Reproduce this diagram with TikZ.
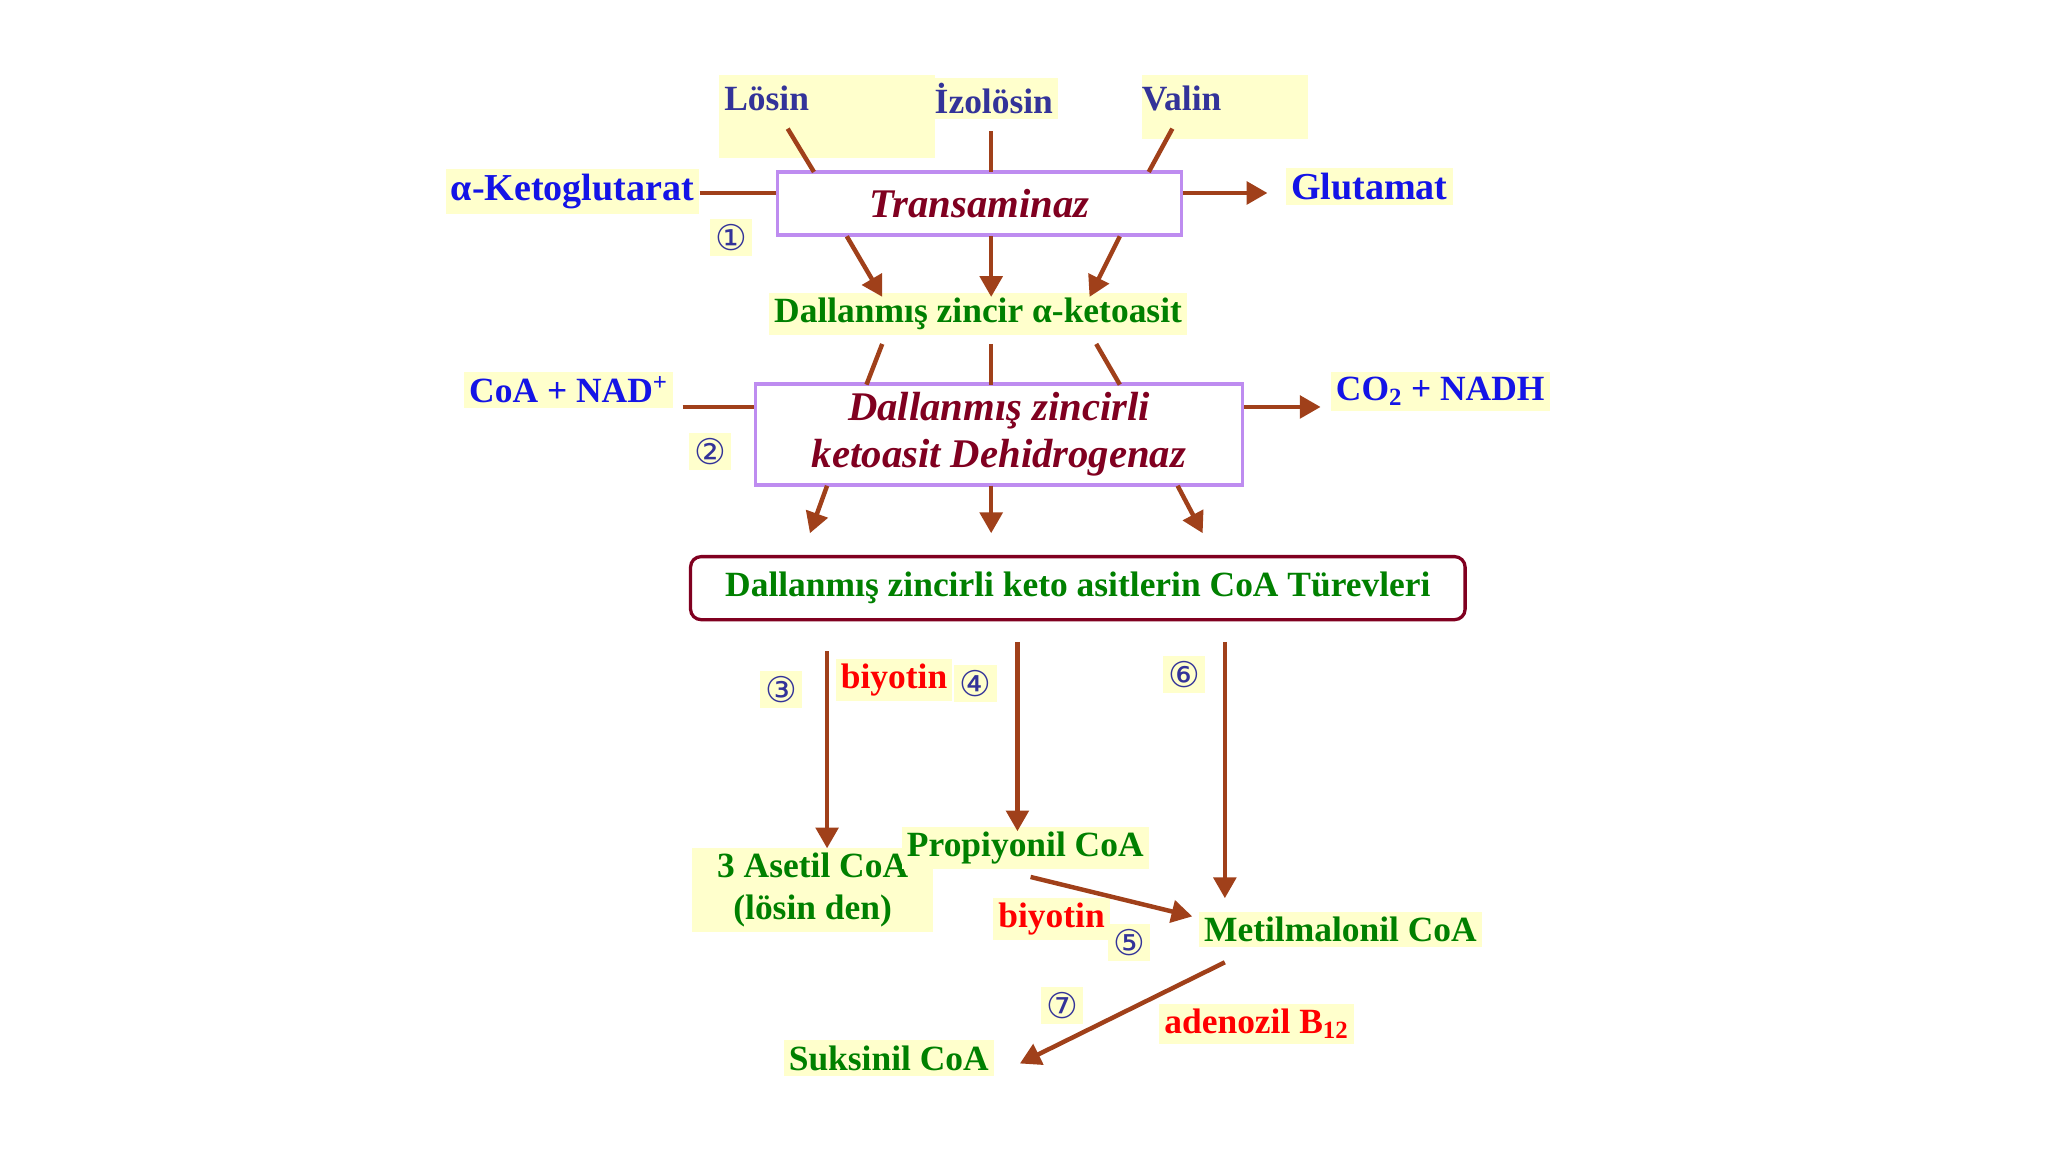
\documentclass[tikz,border=0pt]{standalone}
\usepackage{fontspec}
\setmainfont{Liberation Serif}
\newfontfamily\circfont{DejaVu Sans}
\usetikzlibrary{arrows}
\usetikzlibrary{positioning}
\definecolor{arr}{RGB}{160,64,26}
\definecolor{hl}{RGB}{255,255,204}
\definecolor{aa}{RGB}{51,51,153}
\definecolor{bl}{RGB}{20,20,230}
\definecolor{gr}{RGB}{0,128,0}
\definecolor{dr}{RGB}{128,0,32}
\definecolor{vi}{RGB}{190,140,240}
\begin{document}
\begin{tikzpicture}[x=1pt, y=-1pt, font=\bfseries\fontsize{27}{32}\selectfont]
    \tikzset{
        lbl/.style={fill=hl, inner sep=4pt},
        enz/.style={draw=vi, line width=2.5pt, fill=white, text=dr, font=\bfseries\itshape\fontsize{31}{36}\selectfont, align=center, inner sep=2pt},
        num/.style={fill=hl, inner sep=4pt, font=\circfont\fontsize{27}{30}\selectfont, text=aa},
        pth/.style={draw=arr, line width=3.4pt},
        arw/.style={pth, -triangle 60},
    }
    \useasboundingbox (0,0) rectangle (1560,877);

    \fill [hl] (548,57) rectangle (712,120);
    \fill [hl] (870,57) rectangle (996,106);
    \node [text=aa] (losin) at (584,75) {Lösin};
    \node [lbl, text=aa] (izo) at (757,75) {İzolösin};
    \node [text=aa] (valin) at (900,75) {Valin};

    \node [enz, minimum width=308pt, minimum height=48pt] (trans) at (746,155) {Transaminaz};
    \node [lbl, text=bl, font=\bfseries\fontsize{29}{34}\selectfont] (akg) at (436,146) {α-Ketoglutarat};
    \node [lbl, text=bl, font=\bfseries\fontsize{29}{34}\selectfont] (glu) at (1043,142) {Glutamat};
    \node [num] (n1) at (557,181) {①};

    \node [lbl, text=gr] (keto) at (745,239) {Dallanmış zincir α-ketoasit};

    \node [lbl, text=bl] (coa) at (433,297) {CoA + NAD\textsuperscript{+}};
    \node [lbl, text=bl] (co2) at (1097,298) {CO\textsubscript{2} + NADH};
    \node [enz, minimum width=371pt, minimum height=77pt] (dh) at (761,331) {Dallanmış zincirli\\ketoasit Dehidrogenaz};
    \node [num] (n2) at (541,344) {②};

    \node [draw=dr, line width=2.5pt, rounded corners=8pt, fill=white, text=gr, minimum width=590pt, minimum height=48pt] (turev) at (821,448) {Dallanmış zincirli keto asitlerin CoA Türevleri};

    \node [num] (n3) at (595,525) {③};
    \node [lbl, text=red] (b1) at (681,518) {biyotin};
    \node [num] (n4) at (743,521) {④};
    \node [num] (n6) at (902,514) {⑥};

    \node [lbl, text=gr, align=center, minimum width=184pt, minimum height=64pt] (asetil) at (619,678) {3 Asetil CoA\\(lösin den)};
    \node [lbl, text=gr] (prop) at (781,646) {Propiyonil CoA};
    \node [lbl, text=gr] (metil) at (1021,708) {Metilmalonil CoA};
    \node [lbl, text=red] (b2) at (801,700) {biyotin};
    \node [num] (n5) at (860,718) {⑤};
    \node [num] (n7) at (809,766) {⑦};
    \node [lbl, text=red] (b12) at (957,780) {adenozil B\textsubscript{12}};
    \node [lbl, text=gr] (suk) at (677,806) {Suksinil CoA};

    % free ends
    \coordinate (l1) at (600,98);   \coordinate (l2) at (620,131);
    \coordinate (i1) at (755,100);  \coordinate (i2) at (755,131);
    \coordinate (v1) at (893,98);   \coordinate (v2) at (875,131);
    \coordinate (t1) at (645,180);  \coordinate (k1) at (672,226);
    \coordinate (t2) at (755,180);  \coordinate (k2) at (755,226);
    \coordinate (t3) at (853,180);  \coordinate (k3) at (830,226);
    \coordinate (k4) at (672,262);  \coordinate (d1) at (660,293);
    \coordinate (k5) at (755,262);  \coordinate (d2) at (755,293);
    \coordinate (k6) at (835,262);  \coordinate (d3) at (853,293);
    \coordinate (d4) at (630,370);  \coordinate (r1) at (617,406);
    \coordinate (d5) at (755,370);  \coordinate (r2) at (755,406);
    \coordinate (d6) at (897,370);  \coordinate (r3) at (916,406);
    \coordinate (s1) at (630,496);  \coordinate (e1) at (630,646);
    \coordinate (s2) at (775,489);  \coordinate (e2) at (775,633);
    \coordinate (s3) at (933,489);  \coordinate (e3) at (933,684);
    \coordinate (p1) at (785,668);  \coordinate (p2) at (908,698);
    \coordinate (m1) at (933,733);  \coordinate (m2) at (777,810);
    \coordinate (c1) at (520,310);

    \draw [pth] (l1) -- (l2);
    \draw [pth] (i1) -- (i2);
    \draw [pth] (v1) -- (v2);
    \draw [pth] (akg.east |- 0,147) -- (trans.west |- 0,147);
    \draw [arw] (trans.east |- 0,147) -- ++(64,0);
    \draw [arw] (t1) -- (k1);
    \draw [arw] (t2) -- (k2);
    \draw [arw] (t3) -- (k3);
    \draw [pth] (k4) -- (d1);
    \draw [pth] (k5) -- (d2);
    \draw [pth] (k6) -- (d3);
    \draw [pth] (c1) -- (dh.west |- c1);
    \draw [arw] (dh.east |- c1) -- ++(58,0);
    \draw [arw] (d4) -- (r1);
    \draw [arw] (d5) -- (r2);
    \draw [arw] (d6) -- (r3);
    \draw [arw] (s1) -- (e1);
    \draw [arw] (s2) -- (e2);
    \draw [arw] (s3) -- (e3);
    \draw [arw] (p1) -- (p2);
    \draw [arw] (m1) -- (m2);
\end{tikzpicture}
\end{document}
